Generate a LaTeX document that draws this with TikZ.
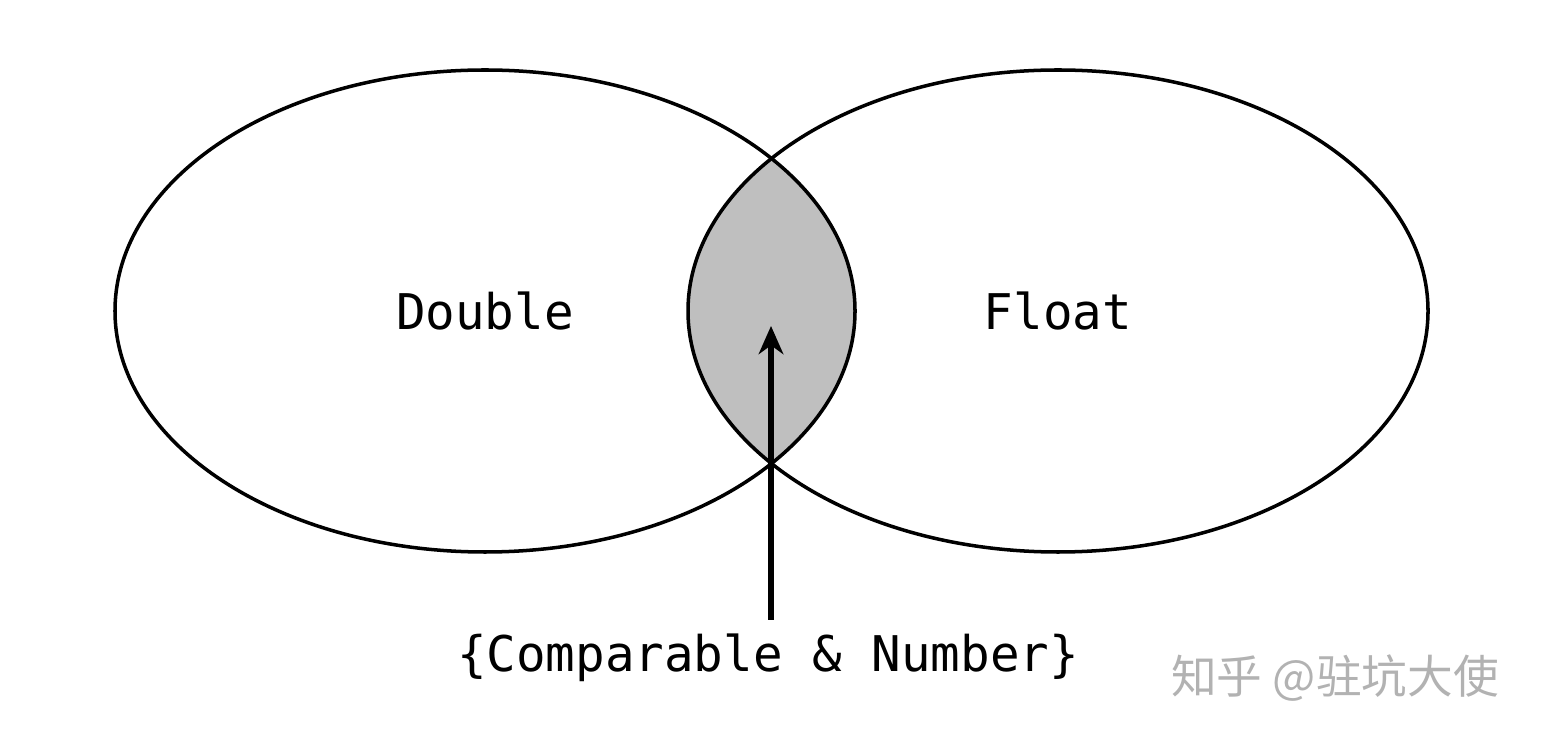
\documentclass[tikz,border=0pt]{standalone}
\usepackage{fontspec}
\setmainfont{DejaVu Sans Mono}
\newfontfamily\cjk{Noto Sans CJK SC}
\usetikzlibrary{arrows.meta}
\begin{document}
\begin{tikzpicture}[x=0.02cm,y=-0.02cm,
  ring/.style={line width=2pt},
  lbl/.style={font=\fontsize{28}{32}\selectfont}]
\useasboundingbox (0,0) rectangle (1541,742);
\begin{scope}
\clip (485,311) ellipse [x radius=370,y radius=241];
\fill[gray!50] (1058,311) ellipse [x radius=370,y radius=241];
\end{scope}
\draw[ring] (485,311) ellipse [x radius=370,y radius=241];
\draw[ring] (1058,311) ellipse [x radius=370,y radius=241];
\node[lbl] (d) at (485,311) {Double};
\node[lbl] (f) at (1058,311) {Float};
\node[lbl] (c) at (768,658) {\{Comparable \& Number\}};
\coordinate (tip) at (771,326);
\draw[line width=3pt,-{Stealth[length=16pt,width=14pt,inset=5pt]}] (c.north -| tip) ++(0,-8) -- (tip);
\node[font=\cjk\fontsize{26}{30}\selectfont,text=gray!60] (w) at (1335,678) {知乎 @驻坑大使};
\end{tikzpicture}
\end{document}
